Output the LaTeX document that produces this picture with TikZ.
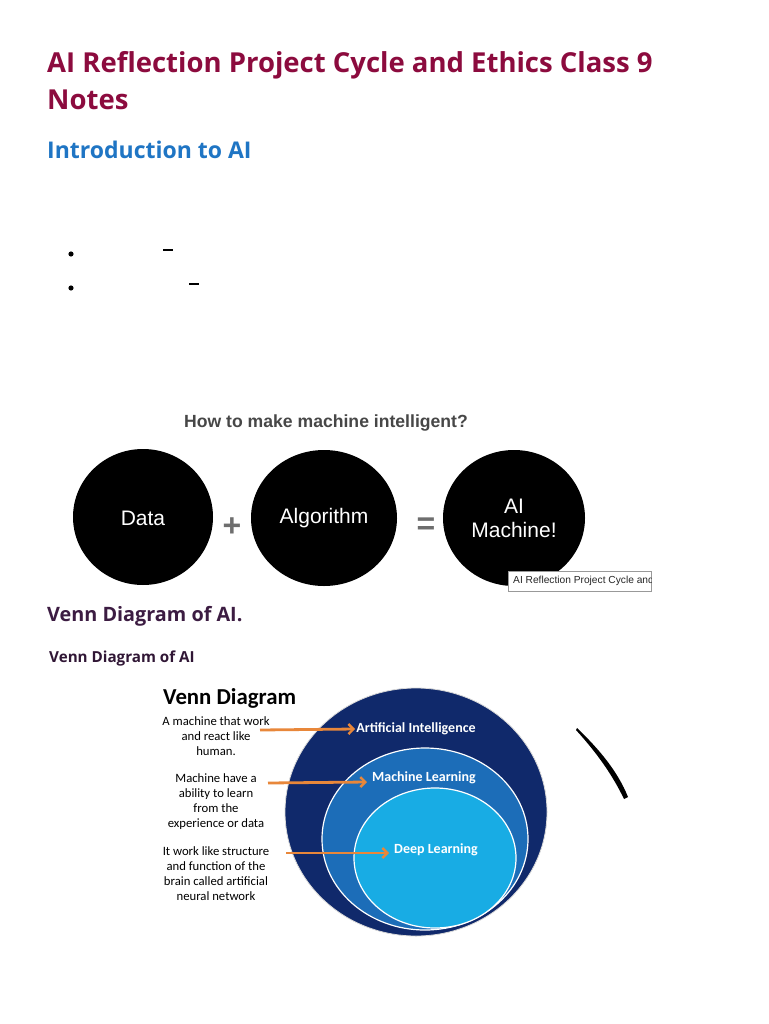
\documentclass[tikz,border=0pt]{standalone}
\usepackage{fontspec}
\setmainfont{Open Sans}
\newfontfamily\arialfont{Liberation Sans}
\newfontfamily\calibrifont{Carlito}
\usepackage{tikz}
\usetikzlibrary{arrows.meta,positioning,calc}
\definecolor{titlered}{HTML}{8C0B3E}
\definecolor{introblue}{HTML}{1F75C4}
\definecolor{vennpurple}{HTML}{3C1C42}
\definecolor{aidark}{HTML}{10296B}
\definecolor{mlblue}{HTML}{1C6DB8}
\definecolor{dlblue}{HTML}{18ACE4}
\definecolor{arroworange}{HTML}{E8873A}
\definecolor{opgray}{HTML}{6E6E6E}
\tikzset{
  heading/.style={anchor=base west,inner sep=0pt,font=\bfseries},
  circtxt/.style={text=white,font=\arialfont\fontsize{21}{24}\selectfont,align=center},
  setcirc/.style={draw=white,line width=1.2pt},
  setlbl/.style={text=white,font=\calibrifont\bfseries\fontsize{14}{16}\selectfont,inner sep=1pt},
  note/.style={align=center,font=\calibrifont\fontsize{12.7}{15}\selectfont,inner sep=0pt},
  oarr/.style={-{Straight Barb[length=5pt,width=10pt,line width=2.4pt]},arroworange,line width=2.8pt},
  op/.style={text=opgray,font=\arialfont\bfseries\fontsize{32}{32}\selectfont,inner sep=0pt},
}
\begin{document}
\begin{tikzpicture}[x=1pt,y=-1pt]
  \useasboundingbox[fill=white] (0,0) rectangle (768,1024);
  %% Headings
  \node[heading,text=titlered,font=\bfseries\fontsize{27.5}{30}\selectfont] (title1) at (47,73)
    {AI Reflection Project Cycle and Ethics Class 9};
  \node[heading,text=titlered,font=\bfseries\fontsize{27.5}{30}\selectfont] (title2) at (47,110) {Notes};
  \node[heading,text=introblue,font=\bfseries\fontsize{23}{26}\selectfont] (intro) at (47,159) {Introduction to AI};
  %% Bullets
  \fill (71,254) circle (2.6) (71,288) circle (2.6);
  \draw[line width=1.8pt] (163,250) -- (173,250) (189,284) -- (199,284);

  %% How to make machine intelligent
  \node[text=black!72,font=\arialfont\bfseries\fontsize{17.6}{20}\selectfont] (question) at (326,423)
    {How to make machine intelligent?};
  \fill (143,517) ellipse (70 and 68);
  \node[circtxt] (data) at (143,518) {Data};
  \fill (324,518) ellipse (73 and 68);
  \node[circtxt] (algo) at (324,518) {Algorithm};
  \fill (514,518) ellipse (71 and 68);
  \node[circtxt] (aim) at (514,518) {AI\\Machine!};
  \node[op] (plus) at (232,527) {+};
  \node[op] (equals) at (426,526) {=};
  %% tooltip
  \node[draw=black!40,fill=white,anchor=north west,minimum width=143,minimum height=20,inner sep=0pt] (tip) at (508,571) {};
  \begin{scope}
    \clip (tip.north west) rectangle (tip.south east);
    \node[anchor=west,font=\arialfont\fontsize{10.2}{12}\selectfont,inner sep=0pt,text=black!85] (tiptext) at ($(tip.west)+(5,0)$)
      {AI Reflection Project Cycle and Ethics};
  \end{scope}

  %% Venn headings
  \node[heading,text=vennpurple,font=\bfseries\fontsize{19.8}{22}\selectfont] (venn1) at (47,621) {Venn Diagram of AI.};
  \node[heading,text=vennpurple!80!black,font=\bfseries\fontsize{15.2}{17}\selectfont] (venn2) at (49,662) {Venn Diagram of AI};
  \node[heading,font=\calibrifont\bfseries\fontsize{22.8}{26}\selectfont] (venntitle) at (163,704) {Venn Diagram};

  %% Nested sets
  \filldraw[aidark,draw=black!15,line width=0.8pt] (416,812) ellipse (131 and 124);
  \filldraw[mlblue,setcirc] (425,839) ellipse (103 and 91);
  \filldraw[dlblue,setcirc] (435,858) ellipse (81 and 70);
  \node[setlbl] (ai) at (416,729) {Artificial Intelligence};
  \node[setlbl] (ml) at (424,778) {Machine Learning};
  \node[setlbl] (dl) at (436,850) {Deep Learning};

  %% Notes and arrows
  \node[note,anchor=north] (aitxt) at (216,716) {A machine that work\\and react like\\human.};
  \node[note,anchor=north] (mltxt) at (216,773) {Machine have a\\ability to learn\\from the\\experience or data};
  \node[note,anchor=north] (dltxt) at (216,846) {It work like structure\\and function of the\\brain called artificial\\neural network};
  \coordinate (aistart) at (260,730);
  \coordinate (mlstart) at (268,783);
  \coordinate (dlstart) at (286,853);
  \draw[oarr] (aistart) -- (ai.west);
  \draw[oarr] (mlstart) -- ($(ml.west)+(-4,4)$);
  \draw[oarr] (dlstart) -- ($(dl.west)+(-4,3)$);

  %% Pen stroke
  \coordinate (strokea) at (577,728);
  \coordinate (strokeb) at (627,798);
  \fill (strokea) .. controls (600,750) and (618,772) .. (628,797)
    -- (624,799) .. controls (612,774) and (596,752) .. (576,730) -- cycle;
\end{tikzpicture}
\end{document}
